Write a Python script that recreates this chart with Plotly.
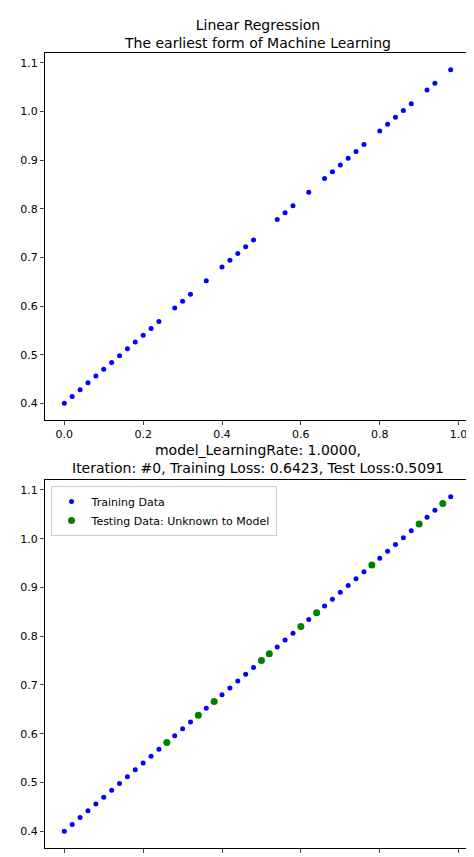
import plotly.graph_objects as go

# training points (x, y)
train_x = [0.00, 0.02, 0.04, 0.06, 0.08, 0.10, 0.12, 0.14, 0.16, 0.18,
           0.20, 0.22, 0.24, 0.28, 0.30, 0.32, 0.36, 0.40, 0.42, 0.44,
           0.46, 0.48, 0.54, 0.56, 0.58, 0.62, 0.66, 0.68, 0.70, 0.72,
           0.74, 0.76, 0.80, 0.82, 0.84, 0.86, 0.88, 0.92, 0.94, 0.98]
train_y = [0.400, 0.414, 0.428, 0.442, 0.456, 0.470, 0.484, 0.498, 0.512, 0.526,
           0.540, 0.554, 0.568, 0.596, 0.610, 0.624, 0.652, 0.680, 0.694, 0.708,
           0.722, 0.736, 0.778, 0.792, 0.806, 0.834, 0.862, 0.876, 0.890, 0.904,
           0.918, 0.932, 0.960, 0.974, 0.988, 1.002, 1.016, 1.044, 1.058, 1.086]

# testing points
test_x = [0.26, 0.34, 0.38, 0.50, 0.52, 0.60, 0.64, 0.78, 0.90, 0.96]
test_y = [0.582, 0.638, 0.666, 0.750, 0.764, 0.820, 0.848, 0.946, 1.030, 1.072]

x_ticks = [0.0, 0.2, 0.4, 0.6, 0.8, 1.0]
y_ticks = [0.4, 0.5, 0.6, 0.7, 0.8, 0.9, 1.0, 1.1]

FONT = "DejaVu Sans"

fig = go.Figure()
fig.add_trace(go.Scatter(x=train_x, y=train_y, mode="markers", xaxis="x", yaxis="y",
                         marker=dict(color="blue", size=5), showlegend=False))
fig.add_trace(go.Scatter(x=train_x, y=train_y, mode="markers", xaxis="x2", yaxis="y2",
                         name="Training Data", marker=dict(color="blue", size=5)))
fig.add_trace(go.Scatter(x=test_x, y=test_y, mode="markers", xaxis="x2", yaxis="y2",
                         name="Testing Data: Unknown to Model",
                         marker=dict(color="green", size=7)))

ax_common = dict(showline=True, linecolor="black", linewidth=1, mirror=True,
                 ticks="outside", ticklen=4, showgrid=False, zeroline=False,
                 automargin=False, tickfont=dict(size=11, color="black"))

fig.update_layout(
    width=474, height=857,
    margin=dict(l=37, r=12, t=45, b=17),
    paper_bgcolor="white", plot_bgcolor="white",
    font=dict(family=FONT, color="black"),
    xaxis=dict(domain=[0, 1], range=[-0.049, 1.029], tickvals=x_ticks,
               tickformat=".1f", anchor="y", **ax_common),
    yaxis=dict(domain=[0.5384, 1], range=[0.3657, 1.1203],
               tickvals=y_ticks, tickformat=".1f", anchor="x", **ax_common),
    xaxis2=dict(domain=[0, 1], range=[-0.049, 1.029], tickvals=x_ticks,
                tickformat=".1f", anchor="y2", **ax_common),
    yaxis2=dict(domain=[0, 0.4629], range=[0.3657, 1.1203],
                tickvals=y_ticks, tickformat=".1f", anchor="x2", **ax_common),
    legend=dict(x=0.013, y=0.4553, xanchor="left", yanchor="top",
                bordercolor="#cccccc", borderwidth=1, bgcolor="white",
                font=dict(size=11), tracegroupgap=0),
    annotations=[
        dict(text="Linear Regression<br>The earliest form of Machine Learning",
             x=0.5, y=1.048, xref="paper", yref="paper",
             xanchor="center", yanchor="top", showarrow=False, font=dict(size=14)),
        dict(text="model_LearningRate: 1.0000,<br>Iteration: #0, Training Loss: 0.6423, Test Loss:0.5091",
             x=0.5, y=0.5132, xref="paper", yref="paper",
             xanchor="center", yanchor="top", showarrow=False, font=dict(size=14)),
    ],
)

fig.write_html("out.html")
